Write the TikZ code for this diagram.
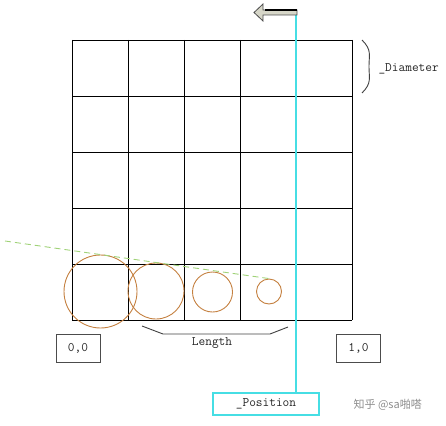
\documentclass[tikz,border=0pt]{standalone}
\usepackage{fontspec}
\newfontfamily\cjkfont{Noto Sans CJK SC}
\definecolor{cyanL}{RGB}{70,222,228}
\definecolor{ringC}{RGB}{196,128,64}
\definecolor{dashG}{RGB}{160,210,120}
\definecolor{arrowF}{RGB}{214,214,200}
\begin{document}
\begin{tikzpicture}[x=1pt,y=-1pt,
  gridline/.style={black,line width=0.95pt},
  ring/.style={draw=ringC,line width=0.9pt},
  cyanline/.style={draw=cyanL,line width=1.2pt},
  lbl/.style={font=\ttfamily\fontsize{13}{15}\selectfont,text=black!85},
  coordbox/.style={draw=black!70,line width=1pt,minimum width=44pt,minimum height=28pt,inner sep=0pt,font=\ttfamily\fontsize{13}{15}\selectfont,text=black!85},
  bracket/.style={black!75,line width=0.9pt}]
\useasboundingbox (0,0) rectangle (446,425);
% grid
\foreach \x in {72,128,184,240,296,352} \draw[gridline] (\x,40) -- (\x,320);
\foreach \y in {40,96,152,208,264,320} \draw[gridline] (72,\y) -- (352,\y);
% circles
\coordinate (c1) at (100.5,291.5);
\coordinate (c2) at (156,291);
\coordinate (c3) at (212.5,292);
\coordinate (c4) at (269,291.5);
\draw[ring] (c1) circle (36.5);
\draw[ring] (c2) circle (28);
\draw[ring] (c3) circle (20);
\draw[ring] (c4) circle (12.5);
% dashed tangent line
\coordinate (d0) at (5,241);
\coordinate (d1) at (272,279);
\draw[dashG,line width=0.9pt,dash pattern=on 6pt off 4pt] (d0) -- (d1);
% cyan position line and box
\node[draw=cyanL,line width=1.2pt,minimum width=106pt,minimum height=22pt,inner sep=0pt,lbl] (pos) at (266,404) {\_Position};
\coordinate (ptop) at (296,12);
\draw[cyanline] (ptop) -- (ptop |- pos.north);
% arrow at top
\draw[black!70,line width=0.8pt,fill=arrowF]
  (297,10) -- (263,10) -- (263,4) -- (254,12.5) -- (263,21) -- (263,15) -- (297,15) -- cycle;
\draw[black,line width=1.4pt] (297,10.2) -- (265,10.2);
% coordinate boxes
\node[coordbox] (o) at (78,348) {0,0};
\node[coordbox] (e) at (358.5,348) {1,0};
% length bracket
\coordinate (l0) at (142,326);
\coordinate (l1) at (163,334);
\coordinate (l2) at (270,334);
\coordinate (l3) at (288,327);
\draw[bracket] (l0) -- (l1) -- (l2) -- (l3);
\node[lbl] (len) at (212,343) {Length};
% diameter bracket
\coordinate (b0) at (362,40);
\coordinate (b1) at (362,93);
\draw[bracket] (b0) .. controls (372,50) and (369,55) .. (369,66) -- (369,67) .. controls (369,78) and (372,83) .. (b1);
\node[lbl,anchor=west] (dia) at (375,69) {\_Diameter};
% watermark
\node[font=\cjkfont\fontsize{11}{13}\selectfont,text=black!45,anchor=west] (wm) at (350,405) {知乎 @sa啪嗒};
\end{tikzpicture}
\end{document}
